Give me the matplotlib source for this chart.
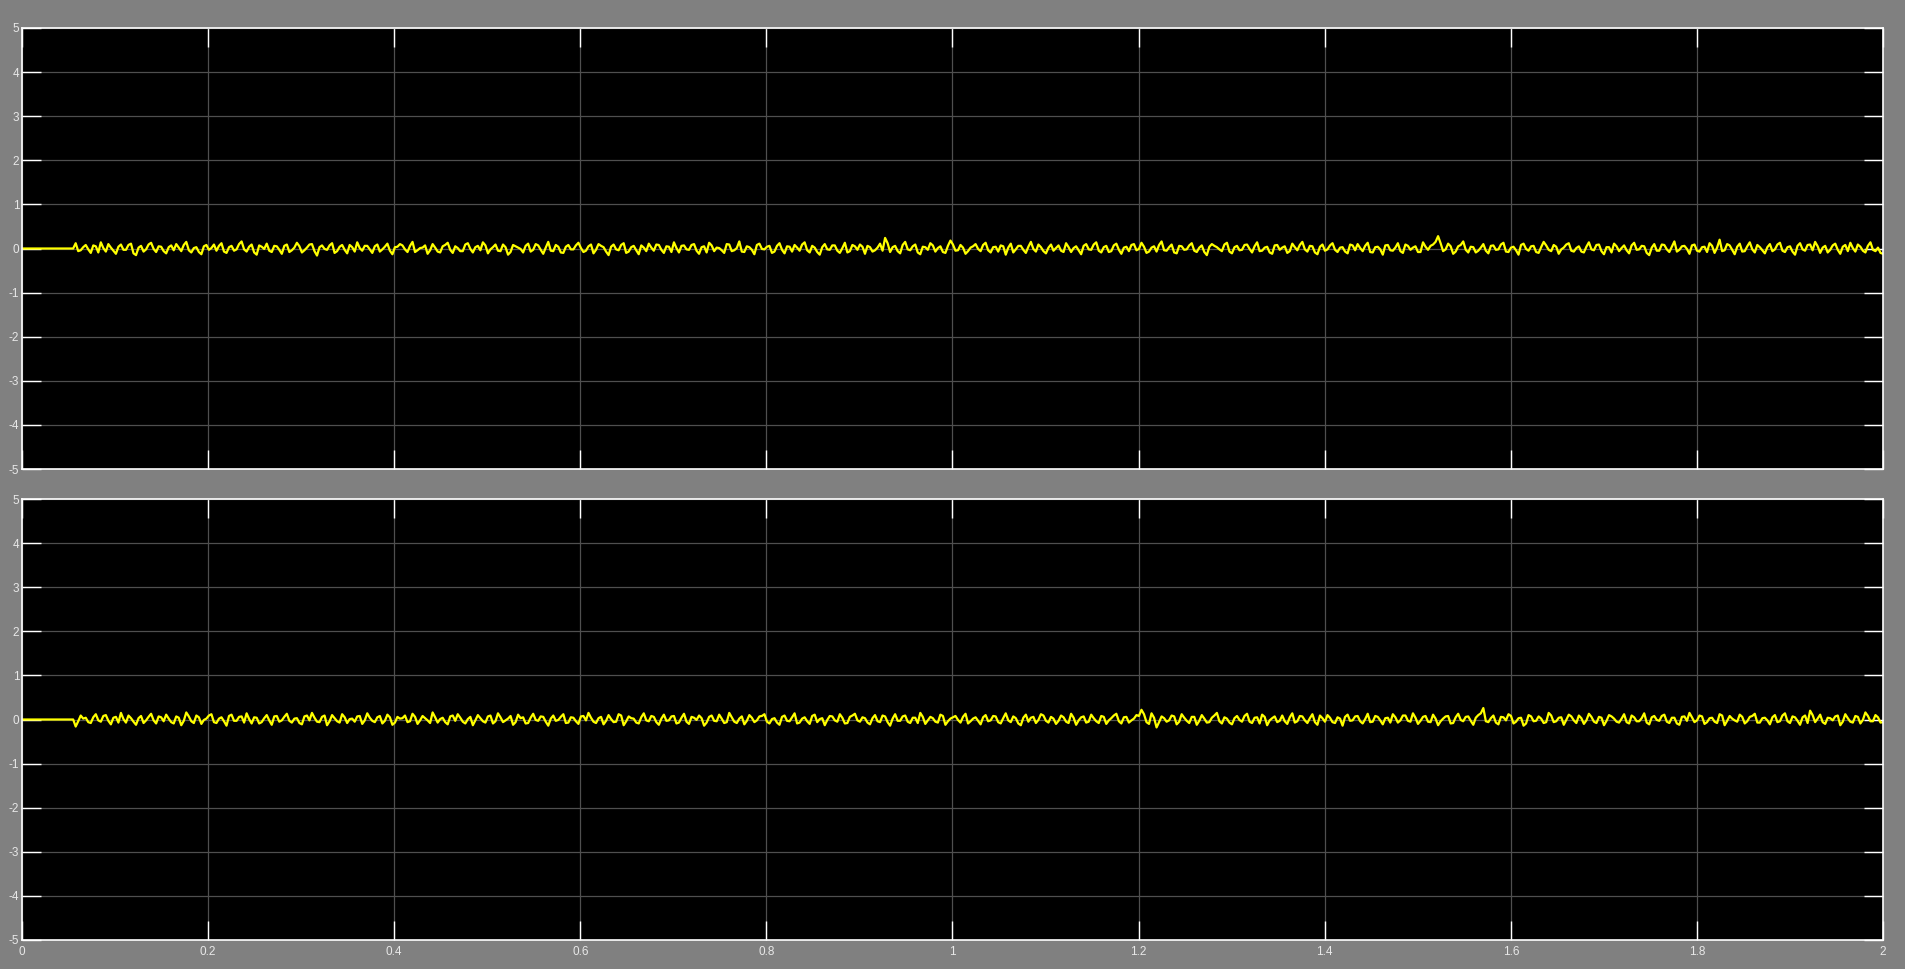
import numpy as np
import matplotlib
matplotlib.use("Agg")
import matplotlib.pyplot as plt

# Scope settings
x_limits = [0, 2]
y_limits = [-5, 5]
x_ticks = [0, 0.2, 0.4, 0.6, 0.8, 1, 1.2, 1.4, 1.6, 1.8, 2]
x_tick_labels = ["0", "0.2", "0.4", "0.6", "0.8", "1", "1.2", "1.4", "1.6", "1.8", "2"]
y_ticks = [-5, -4, -3, -2, -1, 0, 1, 2, 3, 4, 5]
y_tick_labels = ["-5", "-4", "-3", "-2", "-1", "0", "1", "2", "3", "4", "5"]

# Signal is flat at zero until the noise kicks in
lead_t = [0.0, 0.055]
lead_v = [0.0, 0.0]
noise_start = 0.055
noise_end = 2.0

# Top scope: noise samples, even and odd samples
top_even = [
    0.12, -0.04, 0.08, -0.10, 0.05, 0.14, -0.07, 0.02, -0.12, 0.09, -0.03, 0.11, -0.15, 0.06, -0.02, 0.13, -0.08, 0.04, -0.11, 0.07,
    0.10, -0.06, 0.15, -0.09, 0.03, -0.13, 0.08, 0.01, -0.05, 0.12, -0.10, 0.06, -0.02, 0.16, -0.07, 0.09, -0.14, 0.04, 0.11, -0.08,
    0.05, -0.12, 0.09, -0.04, 0.13, -0.09, 0.02, 0.10, -0.16, 0.07, -0.03, 0.12, -0.06, 0.08, -0.11, 0.03, 0.14, -0.05, 0.06, -0.10,
    0.09, -0.02, 0.11, -0.13, 0.04, 0.07, -0.08, 0.15, -0.04, 0.02, -0.12, 0.10, -0.07, 0.05, 0.13, -0.10, 0.01, -0.06, 0.12, -0.09,
    0.06, 0.14, -0.11, 0.03, -0.05, 0.09, -0.14, 0.08, 0.02, -0.09, 0.11, -0.03, 0.07, -0.12, 0.15, -0.06, 0.04, -0.10, 0.08, -0.02,
    0.13, -0.08, 0.05, -0.11, 0.10, 0.03, -0.15, 0.09, -0.04, 0.12, -0.07, 0.06, -0.13, 0.02, 0.11, -0.05, 0.08, -0.10, 0.04, 0.14,
    -0.09, 0.07, -0.03, 0.10, -0.12, 0.05, 0.13, -0.06, 0.01, -0.10, 0.09, -0.04, 0.16, -0.08, 0.03, -0.13, 0.11, -0.02, 0.06, -0.07,
    0.12, -0.11, 0.04, 0.08, -0.05, 0.14, -0.09, 0.02, -0.14, 0.10, -0.03, 0.07, -0.10, 0.13, -0.06, 0.05, 0.09, -0.12, 0.03, -0.04,
    0.11, 0.24, -0.08, 0.06, -0.11, 0.15, -0.04, 0.09, -0.13, 0.03, 0.12, -0.07, 0.05, -0.10, 0.18, -0.05, 0.08, -0.12, 0.02, 0.10,
    -0.06, 0.13, -0.09, 0.04, 0.07, -0.14, 0.11, -0.02, 0.06, -0.10, 0.15, -0.07, 0.03, -0.11, 0.09, 0.01, -0.05, 0.12, -0.08, 0.05,
    -0.13, 0.10, -0.03, 0.14, -0.09, 0.06, -0.06, 0.11, -0.12, 0.04, 0.08, -0.04, 0.13, -0.10, 0.02, -0.07, 0.16, -0.05, 0.09, -0.11,
    0.05, -0.02, 0.12, -0.08, 0.07, -0.15, 0.10, 0.03, -0.06, 0.13, -0.11, 0.06, -0.03, 0.09, -0.09, 0.14, -0.05, 0.04, -0.12, 0.08,
    0.02, -0.10, 0.11, -0.04, 0.15, -0.07, 0.05, -0.13, 0.09, -0.02, 0.12, -0.08, 0.03, -0.11, 0.07, 0.10, -0.06, 0.13, -0.09, 0.04,
    -0.14, 0.08, -0.05, 0.12, -0.10, 0.06, 0.02, -0.08, 0.14, -0.03, 0.09, 0.28, -0.06, 0.11, -0.12, 0.05, 0.16, -0.09, 0.03, -0.05,
    0.10, -0.11, 0.07, -0.02, 0.13, -0.08, 0.04, -0.14, 0.11, -0.05, 0.06, -0.10, 0.15, -0.03, 0.08, -0.12, 0.02, 0.12, -0.07, 0.05,
    -0.09, 0.14, -0.04, 0.09, -0.13, 0.03, 0.11, -0.06, 0.07, -0.11, 0.13, -0.02, 0.05, -0.15, 0.10, -0.05, 0.08, -0.08, 0.16, -0.03,
    0.06, -0.12, 0.09, -0.07, 0.04, 0.12, -0.10, 0.20, -0.04, 0.07, -0.13, 0.11, -0.06, 0.14, -0.09, 0.03, -0.11, 0.10, -0.02, 0.13,
    -0.08, 0.05, -0.14, 0.12, -0.05, 0.09, 0.15, -0.10, 0.06, -0.03, 0.11, -0.12, 0.08, 0.13, -0.07, 0.04, -0.09, 0.14, -0.06, -0.10,
]
top_odd = [
    -0.06, 0.03, -0.02, 0.07, -0.09, 0.01, 0.10, -0.05, 0.04, -0.03, 0.08, -0.11, 0.02, -0.07, 0.09, -0.01, 0.05, -0.06, 0.03, -0.04,
    0.02, 0.08, -0.04, 0.01, -0.08, 0.05, -0.03, 0.09, 0.06, -0.07, 0.03, -0.05, 0.10, -0.02, 0.04, -0.09, 0.07, -0.01, -0.05, 0.06,
    -0.03, 0.06, -0.08, 0.02, 0.05, -0.04, 0.09, -0.06, 0.03, -0.01, 0.07, -0.10, 0.04, -0.03, 0.08, -0.07, 0.01, 0.06, -0.02, 0.05,
    -0.07, 0.04, -0.05, 0.03, 0.10, -0.02, 0.06, -0.08, 0.01, 0.07, -0.04, 0.02, -0.09, 0.08, -0.03, 0.05, -0.06, 0.09, -0.01, 0.03,
    -0.04, 0.07, -0.02, 0.09, -0.06, 0.03, -0.08, 0.05, -0.01, 0.06, -0.07, 0.10, -0.03, 0.02, -0.05, 0.08, -0.09, 0.04, -0.02, 0.07,
    0.01, -0.05, 0.09, -0.03, 0.06, -0.07, 0.04, -0.02, 0.08, -0.10, 0.03, -0.04, 0.07, -0.06, 0.02, 0.09, -0.03, 0.05, -0.08, 0.01,
    0.06, -0.02, 0.08, -0.05, 0.03, -0.09, 0.07, 0.02, -0.04, 0.10, -0.06, 0.01, -0.07, 0.05, -0.03, 0.08, -0.01, 0.04, -0.10, 0.06,
    -0.03, 0.05, -0.07, 0.02, 0.09, -0.04, 0.06, -0.08, 0.03, -0.02, 0.07, -0.05, 0.01, -0.09, 0.08, -0.03, 0.04, 0.06, -0.07, 0.02,
    -0.05, 0.12, 0.03, -0.06, 0.08, -0.02, 0.05, -0.09, 0.04, -0.03, 0.07, 0.01, -0.08, 0.06, 0.09, -0.04, 0.02, -0.06, 0.05, -0.01,
    0.08, -0.04, 0.03, -0.07, 0.05, 0.02, -0.09, 0.06, -0.03, 0.04, -0.01, 0.09, -0.06, 0.02, -0.05, 0.07, -0.08, 0.03, 0.01, -0.04,
    0.06, -0.02, 0.09, -0.05, 0.03, -0.08, 0.07, -0.03, 0.02, -0.06, 0.10, -0.01, 0.04, -0.07, 0.05, 0.08, -0.04, 0.03, -0.09, 0.06,
    -0.03, 0.07, -0.05, 0.02, -0.08, 0.04, 0.06, -0.02, 0.09, -0.07, 0.03, -0.04, 0.08, -0.01, 0.05, -0.06, 0.02, -0.09, 0.07, -0.03,
    0.05, -0.06, 0.03, 0.08, -0.02, 0.06, -0.09, 0.04, -0.05, 0.07, -0.03, 0.02, -0.07, 0.09, -0.04, 0.01, 0.06, -0.08, 0.03, -0.02,
    0.07, -0.04, 0.02, -0.06, 0.09, -0.03, 0.05, -0.08, 0.04, 0.06, 0.15, 0.12, -0.02, 0.05, -0.07, 0.08, -0.03, 0.04, -0.09, 0.02,
    -0.05, 0.06, -0.03, 0.09, -0.07, 0.02, -0.04, 0.08, -0.01, 0.05, -0.08, 0.03, 0.07, -0.06, 0.04, -0.02, 0.09, -0.05, 0.01, -0.07,
    0.04, -0.02, 0.08, -0.06, 0.03, -0.09, 0.05, 0.01, -0.04, 0.07, -0.03, 0.06, -0.10, 0.02, -0.05, 0.09, -0.02, 0.04, -0.07, 0.05,
    -0.01, 0.07, -0.05, 0.03, -0.08, 0.06, 0.02, -0.06, 0.10, -0.03, 0.04, -0.07, 0.05, -0.02, 0.08, -0.04, 0.03, -0.06, 0.09, -0.05,
    0.03, -0.07, 0.06, -0.02, 0.08, -0.04, 0.05, 0.02, -0.09, 0.07, -0.03, 0.04, -0.06, 0.01, 0.09, -0.05, 0.06, -0.03, 0.02, -0.12,
]

# Bottom scope: noise samples, even and odd samples
bottom_even = [
    -0.16, 0.09, 0.04, -0.08, 0.12, -0.05, 0.10, -0.11, 0.06, 0.15, -0.07, 0.03, -0.12, 0.08, -0.02, 0.13, -0.09, 0.05, 0.11, -0.06,
    0.07, -0.13, 0.16, -0.04, 0.09, -0.10, 0.02, 0.12, -0.08, 0.05, -0.14, 0.11, -0.03, 0.07, 0.14, -0.09, 0.04, -0.06, 0.10, -0.12,
    0.08, -0.02, 0.13, -0.07, 0.03, -0.11, 0.09, 0.15, -0.05, 0.06, -0.13, 0.10, -0.04, 0.12, -0.08, 0.02, 0.07, -0.10, 0.14, -0.03,
    0.05, -0.09, 0.11, -0.12, 0.06, 0.03, -0.06, 0.13, -0.10, 0.08, -0.02, 0.16, -0.07, 0.04, -0.11, 0.09, 0.12, -0.05, 0.01, -0.13,
    0.10, -0.04, 0.07, -0.09, 0.14, -0.06, 0.02, -0.12, 0.11, 0.05, -0.08, 0.13, -0.03, 0.06, -0.14, 0.09, -0.01, 0.12, -0.07, 0.04,
    -0.10, 0.08, 0.15, -0.05, 0.03, -0.11, 0.10, -0.06, 0.12, -0.13, 0.07, 0.02, -0.09, 0.14, -0.04, 0.06, -0.12, 0.11, -0.02, 0.08,
    -0.07, 0.13, -0.10, 0.04, 0.09, -0.14, 0.06, -0.03, 0.11, -0.08, 0.15, -0.05, 0.02, -0.11, 0.10, -0.06, 0.07, 0.12, -0.09, 0.03,
    -0.12, 0.09, -0.04, 0.14, -0.07, 0.05, -0.10, 0.11, 0.01, -0.13, 0.08, -0.02, 0.12, -0.09, 0.06, 0.13, -0.05, 0.03, -0.11, 0.10,
    -0.06, 0.07, -0.14, 0.12, -0.03, 0.09, -0.08, 0.04, 0.15, -0.10, 0.06, -0.05, 0.11, -0.12, 0.02, 0.08, -0.07, 0.13, -0.04, 0.05,
    -0.11, 0.10, -0.02, 0.07, -0.09, 0.14, -0.06, 0.03, -0.13, 0.11, 0.04, -0.08, 0.12, -0.03, 0.06, -0.10, 0.09, -0.05, 0.13, -0.12,
    0.05, -0.07, 0.11, -0.04, 0.08, -0.10, 0.03, 0.13, -0.09, 0.06, -0.02, 0.10, 0.22, -0.06, 0.14, -0.18, 0.07, -0.05, 0.09, -0.11,
    0.12, -0.03, 0.06, -0.12, 0.10, -0.07, 0.04, 0.15, -0.09, 0.02, -0.11, 0.08, -0.05, 0.13, -0.08, 0.05, 0.11, -0.13, 0.03, -0.06,
    0.09, -0.10, 0.14, -0.04, 0.07, -0.08, 0.12, -0.12, 0.03, 0.10, -0.06, 0.05, -0.14, 0.11, -0.02, 0.08, -0.09, 0.13, -0.05, 0.06,
    -0.11, 0.04, 0.12, -0.07, 0.09, -0.03, 0.14, -0.10, 0.06, -0.05, 0.11, -0.13, 0.02, 0.08, -0.08, 0.13, -0.04, 0.07, -0.12, 0.10,
    0.26, -0.06, 0.09, -0.11, 0.05, 0.12, -0.09, 0.03, -0.14, 0.10, -0.04, 0.07, -0.08, 0.15, -0.06, 0.04, -0.12, 0.11, -0.02, 0.09,
    -0.10, 0.13, -0.05, 0.06, -0.13, 0.10, 0.02, -0.07, 0.12, -0.09, 0.05, -0.04, 0.14, -0.11, 0.08, -0.03, 0.11, -0.08, 0.04, -0.12,
    0.07, 0.15, -0.06, 0.09, -0.10, 0.03, -0.05, 0.12, -0.13, 0.08, -0.02, 0.11, -0.09, 0.06, 0.13, -0.07, 0.04, -0.11, 0.10, -0.04,
    0.14, -0.08, 0.05, -0.12, 0.09, 0.20, -0.06, 0.11, -0.10, 0.03, 0.07, -0.13, 0.12, -0.05, 0.08, -0.09, 0.16, -0.04, 0.10, -0.07,
]
bottom_odd = [
    -0.04, 0.02, -0.06, 0.05, -0.02, 0.08, -0.03, 0.04, -0.07, 0.01, 0.09, -0.05, 0.03, -0.08, 0.06, -0.02, 0.07, -0.04, 0.02, -0.09,
    0.04, -0.03, 0.07, -0.08, 0.05, -0.01, 0.09, -0.06, 0.02, -0.04, 0.08, -0.03, 0.06, -0.07, 0.01, 0.05, -0.09, 0.03, -0.02, 0.07,
    -0.05, 0.06, -0.03, 0.02, -0.08, 0.07, -0.02, 0.04, -0.06, 0.09, -0.04, 0.03, -0.07, 0.05, 0.01, -0.05, 0.08, -0.02, 0.04, -0.06,
    0.08, -0.03, 0.05, -0.07, 0.02, 0.09, -0.04, 0.06, -0.02, 0.03, -0.08, 0.05, 0.01, -0.06, 0.07, -0.03, 0.04, -0.09, 0.06, -0.02,
    0.03, -0.07, 0.09, -0.04, 0.05, -0.02, 0.08, -0.06, 0.03, -0.09, 0.04, -0.01, 0.07, -0.05, 0.02, -0.03, 0.06, -0.08, 0.05, -0.04,
    0.07, -0.02, 0.04, -0.08, 0.06, -0.03, 0.01, -0.05, 0.09, -0.04, 0.03, -0.07, 0.05, -0.02, 0.08, -0.06, 0.02, -0.03, 0.07, -0.09,
    0.04, -0.05, 0.06, -0.01, 0.03, -0.07, 0.09, -0.04, 0.02, -0.06, 0.05, -0.08, 0.07, -0.03, 0.04, -0.02, 0.08, -0.05, 0.01, -0.07,
    0.06, -0.03, 0.05, -0.09, 0.02, -0.04, 0.08, -0.06, 0.03, -0.01, 0.07, -0.05, 0.04, -0.08, 0.09, -0.02, 0.05, -0.07, 0.03, -0.04,
    0.09, -0.06, 0.02, -0.03, 0.07, -0.05, 0.04, -0.08, 0.06, -0.02, 0.03, -0.07, 0.08, -0.04, 0.05, -0.01, 0.06, -0.09, 0.02, -0.03,
    0.05, -0.04, 0.08, -0.06, 0.03, -0.02, 0.07, -0.09, 0.04, -0.05, 0.06, -0.01, 0.09, -0.07, 0.02, -0.03, 0.05, -0.08, 0.04, -0.02,
    0.07, -0.05, 0.03, -0.08, 0.06, -0.02, 0.09, -0.04, 0.05, -0.07, 0.02, 0.08, 0.12, -0.10, 0.04, -0.06, 0.03, -0.02, 0.07, -0.05,
    0.04, -0.08, 0.06, -0.03, 0.02, -0.06, 0.09, -0.04, 0.05, -0.07, 0.03, -0.01, 0.08, -0.05, 0.04, -0.09, 0.06, -0.02, 0.07, -0.03,
    -0.04, 0.05, -0.07, 0.08, -0.02, 0.03, -0.06, 0.09, -0.05, 0.04, -0.08, 0.02, 0.06, -0.03, 0.07, -0.04, 0.01, -0.06, 0.08, -0.02,
    0.03, -0.07, 0.05, -0.02, 0.09, -0.05, 0.04, -0.03, 0.08, -0.06, 0.02, -0.04, 0.07, -0.09, 0.05, -0.01, 0.06, -0.03, 0.04, 0.14,
    -0.04, 0.03, -0.07, 0.06, -0.02, 0.08, -0.05, 0.04, -0.09, 0.07, -0.03, 0.02, -0.06, 0.09, -0.04, 0.05, -0.01, 0.07, -0.08, 0.03,
    -0.02, 0.06, -0.08, 0.04, -0.03, 0.07, -0.05, 0.02, -0.06, 0.09, -0.04, 0.03, -0.07, 0.05, -0.01, 0.08, -0.05, 0.04, -0.09, 0.06,
    -0.03, 0.05, -0.02, 0.07, -0.06, 0.04, -0.08, 0.09, -0.03, 0.02, -0.05, 0.06, -0.04, 0.08, -0.07, 0.03, -0.02, 0.05, -0.06, 0.09,
    -0.04, 0.07, -0.03, 0.05, -0.08, 0.10, 0.02, -0.06, 0.04, -0.02, 0.09, -0.05, 0.03, -0.07, 0.06, -0.01, 0.08, -0.04, 0.05, -0.06,
]

bg_gray = "#808080"
trace_yellow = "#ffff00"
grid_gray = "#4f4f4f"
label_color = "#e8e8e8"

plt.rcParams["font.family"] = ["Liberation Sans", "DejaVu Sans"]

fig = plt.figure(figsize=(19.05, 9.69), dpi=100, facecolor=bg_gray)
ax_top = fig.add_axes([22 / 1905, 500 / 969, 1861 / 1905, 441 / 969])
ax_bot = fig.add_axes([22 / 1905, 29 / 969, 1861 / 1905, 441 / 969])

for ax, even, odd in [(ax_top, top_even, top_odd), (ax_bot, bottom_even, bottom_odd)]:
    noise = np.column_stack([even, odd]).ravel()
    t = np.concatenate([lead_t, np.linspace(noise_start, noise_end, len(noise) + 1)[1:]])
    v = np.concatenate([lead_v, noise])
    ax.set_facecolor("black")
    ax.plot(t, v, color=trace_yellow, linewidth=1.6)
    ax.set_xlim(x_limits)
    ax.set_ylim(y_limits)
    ax.set_xticks(x_ticks)
    ax.set_xticklabels(x_tick_labels)
    ax.set_yticks(y_ticks)
    ax.set_yticklabels(y_tick_labels)
    ax.grid(True, color=grid_gray, linewidth=0.9)
    ax.set_axisbelow(True)
    ax.tick_params(direction="in", length=14, width=1, color="white",
                   top=True, right=True, labelcolor=label_color, labelsize=8.5)
    ax.tick_params(axis="y", pad=2)
    ax.tick_params(axis="x", pad=4)
    for s in ax.spines.values():
        s.set_color("white")
        s.set_linewidth(1.2)

ax_top.tick_params(labelbottom=False)

fig.savefig("out.png", dpi=100, facecolor=bg_gray)
